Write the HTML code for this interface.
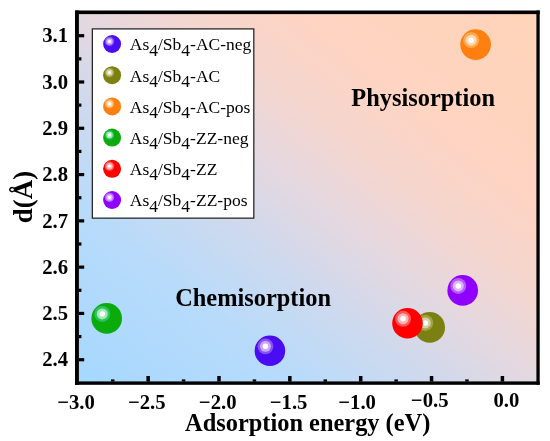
<!DOCTYPE html>
<html lang="en"><head><meta charset="utf-8"><title>Adsorption energy vs d</title>
<style>html,body{margin:0;padding:0;background:#fff;}body{width:550px;height:441px;overflow:hidden;}svg{display:block;}text{font-family:"Liberation Serif","DejaVu Serif",serif;fill:#000;}.tk{font-weight:bold;font-size:20.7px;}.lg{font-size:17.5px;}.big{font-weight:bold;font-size:24.4px;}</style></head><body>
<svg width="550" height="441" viewBox="0 0 550 441">
<defs>
<linearGradient id="bg" x1="0" y1="1" x2="1" y2="0"><stop offset="0" stop-color="#a6d8ff"/><stop offset="0.25" stop-color="#b9dbfa"/><stop offset="0.375" stop-color="#cdd9ee"/><stop offset="0.5" stop-color="#e4d8e0"/><stop offset="0.625" stop-color="#f5d6ce"/><stop offset="0.75" stop-color="#ffd4c2"/><stop offset="1" stop-color="#ffd4b8"/></linearGradient>
</defs>
<rect x="0" y="0" width="550" height="441" fill="#fff"/>
<rect x="78.4" y="13.6" width="458.5" height="368.29999999999995" fill="url(#bg)"/>
<rect x="75.0" y="10.5" width="3.9000000000000057" height="374.3" fill="#000"/>
<rect x="536.4" y="10.5" width="3.300000000000068" height="374.3" fill="#000"/>
<rect x="75.0" y="10.5" width="464.70000000000005" height="3.5999999999999996" fill="#000"/>
<rect x="75.0" y="381.4" width="464.70000000000005" height="3.400000000000034" fill="#000"/>
<rect x="110.98" y="379.40" width="3.5" height="2.2" fill="#000"/>
<rect x="146.40" y="376.00" width="3.5" height="5.6" fill="#000"/>
<rect x="181.82" y="379.40" width="3.5" height="2.2" fill="#000"/>
<rect x="217.25" y="376.00" width="3.5" height="5.6" fill="#000"/>
<rect x="252.68" y="379.40" width="3.5" height="2.2" fill="#000"/>
<rect x="288.10" y="376.00" width="3.5" height="5.6" fill="#000"/>
<rect x="323.52" y="379.40" width="3.5" height="2.2" fill="#000"/>
<rect x="358.95" y="376.00" width="3.5" height="5.6" fill="#000"/>
<rect x="394.38" y="379.40" width="3.5" height="2.2" fill="#000"/>
<rect x="429.80" y="376.00" width="3.5" height="5.6" fill="#000"/>
<rect x="465.22" y="379.40" width="3.5" height="2.2" fill="#000"/>
<rect x="500.65" y="376.00" width="3.5" height="5.6" fill="#000"/>
<rect x="78.70" y="358.13" width="5.5" height="3.2" fill="#000"/>
<rect x="78.70" y="334.99" width="2.7" height="3.2" fill="#000"/>
<rect x="78.70" y="311.84" width="5.5" height="3.2" fill="#000"/>
<rect x="78.70" y="288.70" width="2.7" height="3.2" fill="#000"/>
<rect x="78.70" y="265.55" width="5.5" height="3.2" fill="#000"/>
<rect x="78.70" y="242.41" width="2.7" height="3.2" fill="#000"/>
<rect x="78.70" y="219.26" width="5.5" height="3.2" fill="#000"/>
<rect x="78.70" y="196.12" width="2.7" height="3.2" fill="#000"/>
<rect x="78.70" y="172.97" width="5.5" height="3.2" fill="#000"/>
<rect x="78.70" y="149.83" width="2.7" height="3.2" fill="#000"/>
<rect x="78.70" y="126.68" width="5.5" height="3.2" fill="#000"/>
<rect x="78.70" y="103.53" width="2.7" height="3.2" fill="#000"/>
<rect x="78.70" y="80.39" width="5.5" height="3.2" fill="#000"/>
<rect x="78.70" y="57.25" width="2.7" height="3.2" fill="#000"/>
<rect x="78.70" y="34.10" width="5.5" height="3.2" fill="#000"/>
<text class="tk" x="76.0" y="408.7" text-anchor="middle">−3.0</text>
<text class="tk" x="146.8" y="408.7" text-anchor="middle">−2.5</text>
<text class="tk" x="217.7" y="408.7" text-anchor="middle">−2.0</text>
<text class="tk" x="288.6" y="408.7" text-anchor="middle">−1.5</text>
<text class="tk" x="357.1" y="408.5" text-anchor="middle">−1.0</text>
<text class="tk" x="429.7" y="406.5" text-anchor="middle">−0.5</text>
<text class="tk" x="506.4" y="406.5" text-anchor="middle">0.0</text>
<text class="tk" x="68.0" y="366.4" text-anchor="end">2.4</text>
<text class="tk" x="68.0" y="320.1" text-anchor="end">2.5</text>
<text class="tk" x="68.0" y="273.8" text-anchor="end">2.6</text>
<text class="tk" x="68.0" y="227.6" text-anchor="end">2.7</text>
<text class="tk" x="68.0" y="181.3" text-anchor="end">2.8</text>
<text class="tk" x="68.0" y="135.0" text-anchor="end">2.9</text>
<text class="tk" x="68.0" y="88.7" text-anchor="end">3.0</text>
<text class="tk" x="68.0" y="42.4" text-anchor="end">3.1</text>
<text class="big" x="307.7" y="431.3" text-anchor="middle">Adsorption energy (eV)</text>
<text class="big" style="font-size:27px" transform="translate(32.0,197.0) rotate(-90)" text-anchor="middle">d(Å)</text>
<text class="big" x="423.2" y="105.9" text-anchor="middle">Physisorption</text>
<text class="big" x="253.1" y="306.3" text-anchor="middle">Chemisorption</text>
<circle cx="429.7" cy="327.4" r="15.3" fill="#7c8010"/>
<circle cx="425.26" cy="322.96" r="7.96" fill="#a2a44a"/>
<circle cx="425.26" cy="322.96" r="5.51" fill="#d2d2a4"/>
<circle cx="425.26" cy="322.96" r="2.75" fill="#fff"/>
<circle cx="407.5" cy="323.2" r="15.3" fill="#ff0000"/>
<circle cx="403.06" cy="318.76" r="7.96" fill="#ff5858"/>
<circle cx="403.06" cy="318.76" r="5.51" fill="#ffb4b4"/>
<circle cx="403.06" cy="318.76" r="2.75" fill="#fff"/>
<circle cx="462.7" cy="290.4" r="15.3" fill="#9000ff"/>
<circle cx="458.26" cy="285.96" r="7.96" fill="#b45cff"/>
<circle cx="458.26" cy="285.96" r="5.51" fill="#dcb4ff"/>
<circle cx="458.26" cy="285.96" r="2.75" fill="#fff"/>
<circle cx="475.6" cy="44.6" r="15.3" fill="#ff8010"/>
<circle cx="471.16" cy="40.16" r="7.96" fill="#ffa850"/>
<circle cx="471.16" cy="40.16" r="5.51" fill="#ffd8b0"/>
<circle cx="471.16" cy="40.16" r="2.75" fill="#fff"/>
<circle cx="106.7" cy="318.4" r="15.3" fill="#0cab0c"/>
<circle cx="102.26" cy="313.96" r="7.96" fill="#28c462"/>
<circle cx="102.26" cy="313.96" r="5.51" fill="#a4e8b4"/>
<circle cx="102.26" cy="313.96" r="2.75" fill="#fff"/>
<circle cx="269.9" cy="350.8" r="15.3" fill="#4a0cf2"/>
<circle cx="265.46" cy="346.36" r="7.96" fill="#8a52f2"/>
<circle cx="265.46" cy="346.36" r="5.51" fill="#c8aaf8"/>
<circle cx="265.46" cy="346.36" r="2.75" fill="#fff"/>
<rect x="92.35" y="28.9" width="161.45" height="189.25" fill="#fff" stroke="#222" stroke-width="1.25"/>
<circle cx="112.1" cy="44.0" r="9" fill="#4a0cf2"/>
<circle cx="109.49" cy="41.39" r="4.68" fill="#8a52f2"/>
<circle cx="109.49" cy="41.39" r="3.24" fill="#c8aaf8"/>
<circle cx="109.49" cy="41.39" r="1.62" fill="#fff"/>
<text class="lg" x="129.8" y="50.4">As<tspan dy="5.2">4</tspan><tspan dy="-5.2">/Sb</tspan><tspan dy="5.2">4</tspan><tspan dy="-5.2">-AC-neg</tspan></text>
<circle cx="112.1" cy="75.2" r="9" fill="#7c8010"/>
<circle cx="109.49" cy="72.59" r="4.68" fill="#a2a44a"/>
<circle cx="109.49" cy="72.59" r="3.24" fill="#d2d2a4"/>
<circle cx="109.49" cy="72.59" r="1.62" fill="#fff"/>
<text class="lg" x="129.8" y="81.6">As<tspan dy="5.2">4</tspan><tspan dy="-5.2">/Sb</tspan><tspan dy="5.2">4</tspan><tspan dy="-5.2">-AC</tspan></text>
<circle cx="112.1" cy="106.4" r="9" fill="#ff8010"/>
<circle cx="109.49" cy="103.79" r="4.68" fill="#ffa850"/>
<circle cx="109.49" cy="103.79" r="3.24" fill="#ffd8b0"/>
<circle cx="109.49" cy="103.79" r="1.62" fill="#fff"/>
<text class="lg" x="129.8" y="112.8">As<tspan dy="5.2">4</tspan><tspan dy="-5.2">/Sb</tspan><tspan dy="5.2">4</tspan><tspan dy="-5.2">-AC-pos</tspan></text>
<circle cx="112.1" cy="137.6" r="9" fill="#0cab0c"/>
<circle cx="109.49" cy="134.99" r="4.68" fill="#28c462"/>
<circle cx="109.49" cy="134.99" r="3.24" fill="#a4e8b4"/>
<circle cx="109.49" cy="134.99" r="1.62" fill="#fff"/>
<text class="lg" x="129.8" y="144.0">As<tspan dy="5.2">4</tspan><tspan dy="-5.2">/Sb</tspan><tspan dy="5.2">4</tspan><tspan dy="-5.2">-ZZ-neg</tspan></text>
<circle cx="112.1" cy="168.8" r="9" fill="#ff0000"/>
<circle cx="109.49" cy="166.19" r="4.68" fill="#ff5858"/>
<circle cx="109.49" cy="166.19" r="3.24" fill="#ffb4b4"/>
<circle cx="109.49" cy="166.19" r="1.62" fill="#fff"/>
<text class="lg" x="129.8" y="175.2">As<tspan dy="5.2">4</tspan><tspan dy="-5.2">/Sb</tspan><tspan dy="5.2">4</tspan><tspan dy="-5.2">-ZZ</tspan></text>
<circle cx="112.1" cy="200.0" r="9" fill="#9000ff"/>
<circle cx="109.49" cy="197.39" r="4.68" fill="#b45cff"/>
<circle cx="109.49" cy="197.39" r="3.24" fill="#dcb4ff"/>
<circle cx="109.49" cy="197.39" r="1.62" fill="#fff"/>
<text class="lg" x="129.8" y="206.4">As<tspan dy="5.2">4</tspan><tspan dy="-5.2">/Sb</tspan><tspan dy="5.2">4</tspan><tspan dy="-5.2">-ZZ-pos</tspan></text>
</svg></body></html>
